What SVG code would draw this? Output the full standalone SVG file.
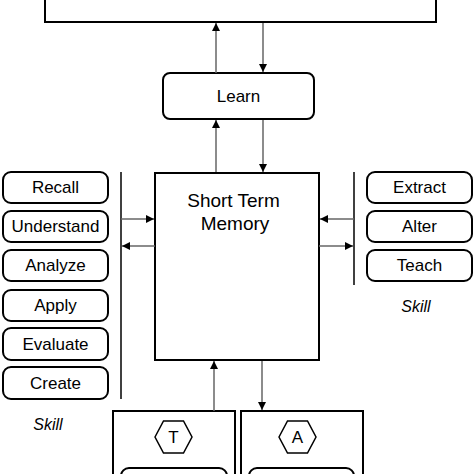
<svg xmlns="http://www.w3.org/2000/svg" width="474" height="474" viewBox="0 0 474 474">
<style>
.box{fill:#fff;stroke:#000;stroke-width:2}
.pill{fill:#fff;stroke:#000;stroke-width:2}
.t{font-family:"Liberation Sans",Arial,sans-serif;font-size:17px;fill:#000;text-anchor:middle;dominant-baseline:central}
.sk{font-family:"Liberation Sans",Arial,sans-serif;font-size:16px;font-style:italic;fill:#000;text-anchor:middle;dominant-baseline:central}
.c{stroke:#666;stroke-width:1.5;fill:none}
.bar{stroke:#000;stroke-width:1.5}
</style>
<defs>
<marker id="ah" viewBox="0 0 10 10" refX="10" refY="5" markerWidth="8" markerHeight="8" markerUnits="userSpaceOnUse" orient="auto">
<path d="M0,0 L10,5 L0,10 Z" fill="#000"/>
</marker>
</defs>
<g id="top"><rect class="box" x="45" y="-20" width="391" height="42"/></g>
<g id="learn"><rect class="pill" x="163" y="73" width="151" height="46" rx="7"/><text class="t" x="238.5" y="96">Learn</text></g>
<g id="stm"><rect class="box" x="155" y="173" width="164" height="187"/><text class="t" x="233.5" y="200" style="font-size:19px">Short Term</text><text class="t" x="235" y="223" style="font-size:19px">Memory</text></g>
<g id="recall"><rect class="pill" x="3" y="172" width="105" height="31" rx="8"/><text class="t" x="55.5" y="187.5">Recall</text></g>
<g id="understand"><rect class="pill" x="3" y="211" width="105" height="31" rx="8"/><text class="t" x="55.5" y="226.5">Understand</text></g>
<g id="analyze"><rect class="pill" x="3" y="250" width="105" height="31" rx="8"/><text class="t" x="55.5" y="265.5">Analyze</text></g>
<g id="apply"><rect class="pill" x="3" y="290" width="105" height="31" rx="8"/><text class="t" x="55.5" y="305.5">Apply</text></g>
<g id="evaluate"><rect class="pill" x="3" y="328" width="105" height="32" rx="8"/><text class="t" x="55.5" y="344">Evaluate</text></g>
<g id="create"><rect class="pill" x="3" y="367" width="105" height="32" rx="8"/><text class="t" x="55.5" y="383">Create</text></g>
<g id="extract"><rect class="pill" x="367" y="172" width="105" height="31" rx="8"/><text class="t" x="419.5" y="187.5">Extract</text></g>
<g id="alter"><rect class="pill" x="367" y="211" width="105" height="31" rx="8"/><text class="t" x="419.5" y="226.5">Alter</text></g>
<g id="teach"><rect class="pill" x="367" y="250" width="105" height="31" rx="8"/><text class="t" x="419.5" y="265.5">Teach</text></g>
<g id="skill-left"><line class="bar" x1="121" y1="172" x2="121" y2="399"/><text class="sk" x="48" y="424">Skill</text></g>
<g id="skill-right"><line class="bar" x1="354" y1="172" x2="354" y2="285"/><text class="sk" x="416" y="306">Skill</text></g>
<g id="tbox"><rect class="box" x="113" y="411" width="122" height="80"/><polygon points="155,437 163.5,421 183.5,421 192,437 183.5,453 163.5,453" fill="#fff" stroke="#000" stroke-width="1.5"/><text class="t" x="173.5" y="437">T</text><rect class="pill" x="121" y="468" width="106" height="30" rx="8"/></g>
<g id="abox"><rect class="box" x="241" y="411" width="122" height="80"/><polygon points="279,437 287.5,421 307.5,421 316,437 307.5,453 287.5,453" fill="#fff" stroke="#000" stroke-width="1.5"/><text class="t" x="297.5" y="437">A</text><rect class="pill" x="249" y="468" width="105" height="30" rx="8"/></g>
<g id="connectors">
<line class="c" x1="216" y1="73" x2="216" y2="23" marker-end="url(#ah)"/>
<line class="c" x1="263" y1="23" x2="263" y2="72" marker-end="url(#ah)"/>
<line class="c" x1="216" y1="172" x2="216" y2="120" marker-end="url(#ah)"/>
<line class="c" x1="263" y1="120" x2="263" y2="172" marker-end="url(#ah)"/>
<line class="c" x1="121" y1="219" x2="154" y2="219" marker-end="url(#ah)"/>
<line class="c" x1="155" y1="246" x2="122" y2="246" marker-end="url(#ah)"/>
<line class="c" x1="354" y1="219" x2="320" y2="219" marker-end="url(#ah)"/>
<line class="c" x1="319" y1="246" x2="353" y2="246" marker-end="url(#ah)"/>
<line class="c" x1="214" y1="411" x2="214" y2="361" marker-end="url(#ah)"/>
<line class="c" x1="262" y1="361" x2="262" y2="410" marker-end="url(#ah)"/>
</g>
</svg>
